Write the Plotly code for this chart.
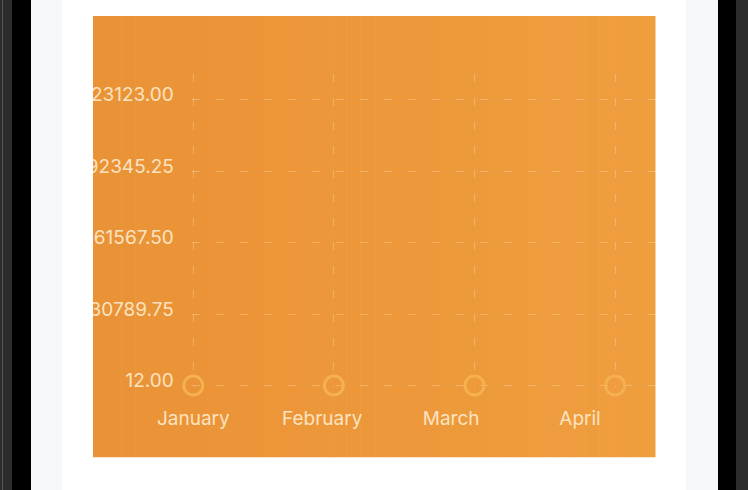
import plotly.graph_objects as go

# chart data
months = ['January', 'February', 'March', 'April']
values = [12, 12, 12, 12]
y_ticks = [12, 30789.75, 61567.50, 92345.25, 123123.00]

W, H = 748, 490


def px_x(v):
	return v / W


def px_y(v):
	return 1 - v / H


def rect(x0, x1, y0, y1, color, layer='below'):
	return dict(type='rect', xref='paper', yref='paper',
				x0=px_x(x0), x1=px_x(x1), y0=px_y(y1), y1=px_y(y0),
				fillcolor=color, line=dict(width=0), layer=layer)


shapes = [
	rect(2, 3, 0, H, '#5a5a5a'),
	rect(12, 31, 0, H, '#000000'),
	rect(718, 736, 0, H, '#000000'),
	rect(31, 62, 0, H, '#f7f8fa'),
	rect(686, 718, 0, H, '#f7f8fa'),
	rect(62, 686, 0, H, '#ffffff'),
]

# orange card with a soft left-to-right gradient
left_c = (234, 146, 54)
right_c = (239, 158, 62)
n = 40
x_start, x_end = 93, 655.5
for i in range(n):
	t = i / (n - 1)
	c = tuple(round(left_c[k] + (right_c[k] - left_c[k]) * t) for k in range(3))
	x0 = x_start + (x_end - x_start) * i / n
	x1 = x_start + (x_end - x_start) * (i + 1) / n + 0.6
	shapes.append(rect(x0, min(x1, x_end), 16, 457.3, 'rgb(%d,%d,%d)' % c))

# hide the part of the y labels that runs off the card
shapes.append(rect(62, 93, 0, H, '#ffffff', layer='above'))

grid = 'rgba(255,232,190,0.33)'
txt = '#fbe3c0'
fnt = dict(family='Inter', size=19, color=txt)

# pixel frame of the plot area (padded a little so edge grid lines get drawn)
x_left, x_right = 193.3, 655.5
y_top, y_bottom = 74, 385.5
pad = 1.5
step_x = 140.6
step_lbl = 128.9
step_y = 71.5
y_per_px = (y_ticks[1] - y_ticks[0]) / step_y

fig = go.Figure()
fig.add_trace(go.Scatter(
	x=months, y=values, mode='markers', cliponaxis=False,
	marker=dict(symbol='circle-open', size=19, color='#f4b14e',
				line=dict(width=3, color='#f4b14e')),
	hoverinfo='skip', showlegend=False))

fig.update_layout(
	width=W, height=H,
	margin=dict(l=0, r=0, t=0, b=0, pad=0),
	paper_bgcolor='#2c2c2c',
	plot_bgcolor='rgba(0,0,0,0)',
	shapes=shapes,
	xaxis=dict(
		domain=[px_x(x_left - pad), px_x(x_right)],
		range=[-pad / step_x, (x_right - x_left) / step_x],
		showgrid=True, gridcolor=grid, griddash='8px,16px', gridwidth=1.4,
		zeroline=False, showline=False, showticklabels=False, automargin=False),
	xaxis2=dict(
		overlaying='x', anchor='y', side='bottom',
		range=[-pad / step_lbl, (x_right - x_left) / step_lbl],
		tickvals=list(range(len(months))), ticktext=months,
		showgrid=False, zeroline=False, showline=False, automargin=False,
		ticks='', ticklabelstandoff=18, tickfont=fnt),
	yaxis=dict(
		domain=[px_y(y_bottom + pad), px_y(y_top)],
		range=[y_ticks[0] - pad * y_per_px, y_ticks[0] + (y_bottom - y_top) * y_per_px],
		tickvals=y_ticks, tickformat='.2f',
		showgrid=True, gridcolor=grid, griddash='8px,16px', gridwidth=1.4,
		zeroline=False, showline=False, automargin=False,
		ticks='', ticklabelstandoff=17, ticklabelshift=-5, tickfont=fnt),
)

# invisible helper trace so the second x axis is drawn
fig.add_trace(go.Scatter(x=[None], y=[None], xaxis='x2', yaxis='y',
						 showlegend=False, hoverinfo='skip'))

fig.write_html("out.html", config=dict(displayModeBar=False),
			   post_script="document.body.style.margin='0';")
